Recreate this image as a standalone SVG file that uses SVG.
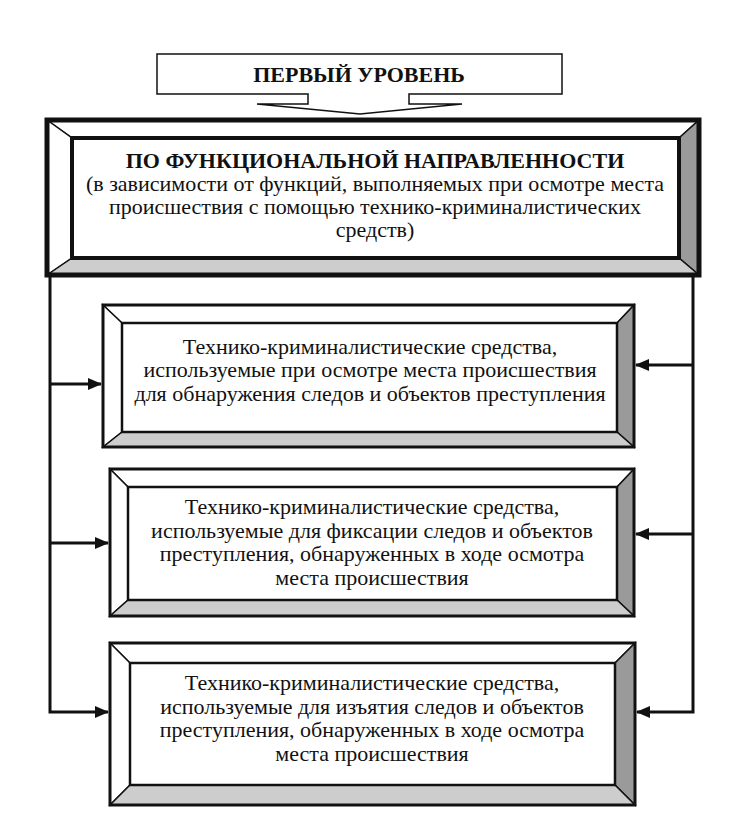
<svg xmlns="http://www.w3.org/2000/svg" width="736" height="831" viewBox="0 0 736 831">
<defs>
<style>
.t{font-family:"Liberation Serif","Times New Roman",serif;font-size:22px;fill:#111;text-anchor:middle}
.b{font-weight:bold}
.w{fill:#fff;stroke:#111;stroke-width:1.5;stroke-linejoin:miter}
.d{fill:#9a9a9a;stroke:#111;stroke-width:1.5}
.l{fill:#cdcdcd;stroke:#111;stroke-width:1.5}
.in{fill:#fff;stroke:#111;stroke-width:2.5}
.out{fill:none;stroke:#111;stroke-width:3}
.c{fill:none;stroke:#111;stroke-width:3}
</style>
<marker id="ah" markerUnits="userSpaceOnUse" markerWidth="14" markerHeight="12" refX="13" refY="6" orient="auto">
<path d="M0,0 L14,6 L0,12 Z" fill="#111"/>
</marker>
</defs>
<rect width="736" height="831" fill="#fff"/>

<g id="level">
<path d="M157,54 H562 V94 H409 V104 H462 L360,114 L257,104 H308 V94 H157 Z" fill="#fff" stroke="#111" stroke-width="1.5"/>
<text class="t b" x="359" y="82">ПЕРВЫЙ УРОВЕНЬ</text>
</g>

<g id="main">
<polygon class="w" points="47,120 699,120 679,138 72,138"/>
<polygon class="w" points="47,120 72,138 72,258 47,275"/>
<polygon class="d" points="699,120 699,275 679,258 679,138"/>
<polygon class="l" points="47,275 72,258 679,258 699,275"/>
<rect x="72" y="138" width="607" height="120" fill="#fff" stroke="#111" stroke-width="4"/>
<rect x="47" y="120" width="652" height="155" fill="none" stroke="#111" stroke-width="5"/>
<text class="t b" x="375" y="168">ПО ФУНКЦИОНАЛЬНОЙ НАПРАВЛЕННОСТИ</text>
<text class="t" x="375" y="191">(в зависимости от функций, выполняемых при осмотре места</text>
<text class="t" x="375" y="214">происшествия с помощью технико-криминалистических</text>
<text class="t" x="375" y="237">средств)</text>
</g>

<g id="box1">
<polygon class="w" points="103,305 634,305 617,323 122,323"/>
<polygon class="w" points="103,305 122,323 122,432 103,447"/>
<polygon class="d" points="634,305 634,447 617,432 617,323"/>
<polygon class="l" points="103,447 122,432 617,432 634,447"/>
<rect class="in" x="122" y="323" width="495" height="109"/>
<rect class="out" x="103" y="305" width="531" height="142"/>
<text class="t" x="370" y="354">Технико-криминалистические средства,</text>
<text class="t" x="370" y="377">используемые при осмотре места происшествия</text>
<text class="t" x="370" y="401">для обнаружения следов и объектов преступления</text>
</g>

<g id="box2">
<polygon class="w" points="110,469 634,469 617,487 128,487"/>
<polygon class="w" points="110,469 128,487 128,600 110,616"/>
<polygon class="d" points="634,469 634,616 617,600 617,487"/>
<polygon class="l" points="110,616 128,600 617,600 634,616"/>
<rect class="in" x="128" y="487" width="489" height="113"/>
<rect class="out" x="110" y="469" width="524" height="147"/>
<text class="t" x="372" y="514">Технико-криминалистические средства,</text>
<text class="t" x="372" y="538">используемые для фиксации следов и объектов</text>
<text class="t" x="372" y="561">преступления, обнаруженных в ходе осмотра</text>
<text class="t" x="372" y="585">места происшествия</text>
</g>

<g id="box3">
<polygon class="w" points="110,643 635,643 615,663 130,663"/>
<polygon class="w" points="110,643 130,663 130,785 110,805"/>
<polygon class="d" points="635,643 635,805 615,785 615,663"/>
<polygon class="l" points="110,805 130,785 615,785 635,805"/>
<rect class="in" x="130" y="663" width="485" height="122"/>
<rect class="out" x="110" y="643" width="525" height="162"/>
<text class="t" x="372" y="690">Технико-криминалистические средства,</text>
<text class="t" x="372" y="714">используемые для изъятия следов и объектов</text>
<text class="t" x="372" y="737">преступления, обнаруженных в ходе осмотра</text>
<text class="t" x="372" y="761">места происшествия</text>
</g>

<g id="connectors">
<path class="c" d="M50,275 V712 H108" marker-end="url(#ah)"/>
<path class="c" d="M50,384 H101" marker-end="url(#ah)"/>
<path class="c" d="M50,543 H108" marker-end="url(#ah)"/>
<path class="c" d="M693,275 V712 H637" marker-end="url(#ah)"/>
<path class="c" d="M693,365 H636" marker-end="url(#ah)"/>
<path class="c" d="M693,534 H636" marker-end="url(#ah)"/>
</g>
</svg>
